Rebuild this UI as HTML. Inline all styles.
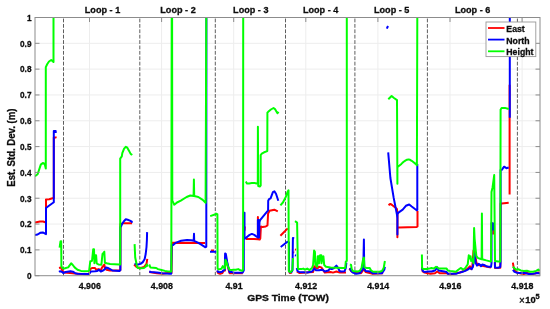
<!DOCTYPE html>
<html><head><meta charset="utf-8"><style>
html,body{margin:0;padding:0;background:#fff;}
svg{display:block;}
.g{stroke:#ededed;stroke-width:1;}
.d{stroke:#5e5e5e;stroke-width:1;stroke-dasharray:3.8 1.59;}
.ax{stroke:#8c8c8c;stroke-width:1;}
.t{font-family:"Liberation Sans",Arial,sans-serif;font-weight:bold;font-size:9px;fill:#0d0d0d;stroke:#0d0d0d;stroke-width:0.3px;}
.r,.b,.gr{fill:none;stroke-width:2;stroke-linejoin:round;stroke-linecap:butt;}
.r{stroke:#f00;} .b{stroke:#00f;} .gr{stroke:#0f0;}
</style></head><body>
<svg width="550" height="309" viewBox="0 0 550 309">
<rect width="550" height="309" fill="#fff"/><defs><clipPath id="cp"><rect x="35" y="17.5" width="505" height="258.2"/></clipPath></defs>
<line x1="89.5" y1="17.5" x2="89.5" y2="275.7" class="g"/>
<line x1="161.6" y1="17.5" x2="161.6" y2="275.7" class="g"/>
<line x1="233.7" y1="17.5" x2="233.7" y2="275.7" class="g"/>
<line x1="305.8" y1="17.5" x2="305.8" y2="275.7" class="g"/>
<line x1="377.9" y1="17.5" x2="377.9" y2="275.7" class="g"/>
<line x1="450.0" y1="17.5" x2="450.0" y2="275.7" class="g"/>
<line x1="522.1" y1="17.5" x2="522.1" y2="275.7" class="g"/>
<line x1="35.0" y1="249.88" x2="540.0" y2="249.88" class="g"/>
<line x1="35.0" y1="224.06" x2="540.0" y2="224.06" class="g"/>
<line x1="35.0" y1="198.24" x2="540.0" y2="198.24" class="g"/>
<line x1="35.0" y1="172.42" x2="540.0" y2="172.42" class="g"/>
<line x1="35.0" y1="146.6" x2="540.0" y2="146.6" class="g"/>
<line x1="35.0" y1="120.78" x2="540.0" y2="120.78" class="g"/>
<line x1="35.0" y1="94.96" x2="540.0" y2="94.96" class="g"/>
<line x1="35.0" y1="69.14" x2="540.0" y2="69.14" class="g"/>
<line x1="35.0" y1="43.32" x2="540.0" y2="43.32" class="g"/>
<line x1="63.5" y1="275.7" x2="63.5" y2="17.5" class="d"/>
<line x1="139.8" y1="275.7" x2="139.8" y2="17.5" class="d"/>
<line x1="215.3" y1="275.7" x2="215.3" y2="17.5" class="d"/>
<line x1="285.5" y1="275.7" x2="285.5" y2="17.5" class="d"/>
<line x1="354.9" y1="275.7" x2="354.9" y2="17.5" class="d"/>
<line x1="427.4" y1="275.7" x2="427.4" y2="17.5" class="d"/>
<line x1="517.4" y1="275.7" x2="517.4" y2="17.5" class="d"/>
<g clip-path="url(#cp)">
<polyline class="r" points="35,222.5 40,221.5 43,221.5 46,222.5 46,199.6 49.2,199.3 52.5,198.3 53.8,198 53.8,137.5 55.7,137.5 55.7,136.5"/>
<polyline class="r" points="59,268 61,267.5 62.2,270.4 64,272.5 70,273 75,273.5 89,274.5 90.3,269.1 92,268 95,268 96.1,269.7 98.5,269.1 100.8,270 102.5,266.8 104.3,264.5 104.9,268 106.6,269.7 110.1,270.5 119.4,270.5 120.3,270.3 120.5,223.9 121.3,223.9 123.2,223.3 132.1,223.3"/>
<polyline class="r" points="134.1,264.6 136.6,267 139.9,268.2 144,267 146.5,263.8 147.3,258.8"/>
<polyline class="r" points="149.2,272 156.8,273.2 162.6,273.8 170.8,272.6 171.5,273 172,242.8 205.1,243"/>
<polyline class="r" points="211,250.4 214,250.4"/>
<polyline class="r" points="217.2,271 218,273 220.1,273.8 222.4,273 223.6,270.8 225,270.5 225.3,258.5 226.1,259 227.5,265 228.7,270 229.6,273.3 234,273.2 242.8,273.2"/>
<polyline class="r" points="244.5,230.7 244.8,226.5"/>
<polyline class="r" points="246,239 254.3,239 257.9,239.3 257.9,217 258,239.3 259.7,239.6 260.3,238.5 260.9,226.5 262.7,227.1 265.7,226.5 267.5,225.3 268.1,213.4 269.6,210.8 274.3,209.7 277.8,211.4"/>
<polyline class="r" points="280.4,235.7 287.7,228.4"/>
<polyline class="r" points="289,272 290,273 292,272.5"/>
<polyline class="r" points="293.2,252.2 294.2,252.6"/>
<polyline class="r" points="295,249.4 296,249.8"/>
<polyline class="r" points="296.8,271.5 299.2,272.9 313.1,272 314.3,266.2 316,268 317.8,268 319,266.8 321.3,267.4 322.5,269.1 324.8,272.6 330.6,272 333,272.6 336.4,271.5 339.9,272.6 344.6,272.6 346,272.6"/>
<polyline class="r" points="349.3,268.6 351.7,271.5 361,273.2 363.9,269.1 365.6,272 372.6,273.8 383.1,273.2"/>
<polyline class="r" points="388.5,205.2 390.4,203.9 392.3,205.2 394.9,207.1 396.9,209 397.5,212.9 397.4,237.3 397.4,227.6 398.9,227.6 416.8,226.9 417.5,226.5 417.5,211"/>
<polyline class="r" points="421.9,266.8 422.7,271.5 424.5,272.6 430.3,273.8 435,273.2 437.3,271.5 439.6,273.2 446.6,273.2 450.1,274.4 456,273.2 460,272.5 465,270.5 467.7,268.6 470,266.2 471.2,269.1 472.3,267.4 473.5,250.5 474.1,250.5 474.6,251.7 476.4,262.7 478.1,265 491,267.4"/>
<polyline class="r" points="493.3,230 493.3,234.5"/>
<polyline class="r" points="495,262 495,268 500.3,267.7 500.6,203.6 501.8,203.6 508.7,202.8"/>
<polyline class="r" points="509.6,194.5 509.6,84.8"/>
<polyline class="r" points="512.9,262.6 513.5,266.7 515,270.9 517.1,272.4 520.7,273.5 523.8,274 526.9,273 531.1,274 535.2,273.5 538.3,272.4 539.3,273"/>
<polyline class="b" points="35,235 37.6,234.5 40.2,232.8 42.8,232.4 46,234.1 46,208 48.6,206 53.8,202.2 53.8,131 55.7,131 55.7,133"/>
<polyline class="b" points="59,271.9 60,271.2 62.3,272 63,273 65.8,272 70.5,271.2 72.8,271.7 75.2,273.2 77.5,273.8 89.1,274 90.9,271.5 95,271.2 97.3,270.9 99,269.7 100.8,271.5 103.1,270.5 104.9,269.1 106,267.4 107.8,268 110.1,269.1 112.4,270.5 119.4,270.9 120.4,270 120.4,227 121,226.6 122.1,223.9 123.9,221.3 125.8,219.3 127.7,219.8 129.9,220.6 131.8,221.7 132,222.8"/>
<polyline class="b" points="134.6,263.3 136.4,264.5 138.1,264.5 140.5,263.9 142.8,262.1 144.6,259.2 145.7,254 146.5,247 146.9,240 147.1,232.1"/>
<polyline class="b" points="149.2,271.5 151,272 156.8,272.4 162.6,273.2 169.6,273.8 171.2,273.8 171.7,245.1 173.1,245.1 176.1,242.6 181.1,240.8 187,239.9 191.2,240.3 193.7,240.8 194,233.8 194.2,240.9 197.9,242.6 201.3,244.7 205.1,247.2 206.3,246.8 206.4,17.4"/>
<polyline class="b" points="210,251.8 216.3,251.8"/>
<polyline class="b" points="217.3,270.3 217.8,271.7 219.7,272.2 222.1,271.7 223.6,270.3 224.8,269.7 225.1,253.4 225.8,253.8 227.2,262 228.7,268.8 229.6,272.2 230.9,271.7 233.3,272.7 239.1,272.7 242.8,272.4 243.8,270.3 243.8,212.8 244.5,212.8 244.5,238.5 245.4,238.5 247.2,236.7 249.6,234.9 251.9,233.9 254.3,234.9 256.7,236.7 257.9,237.5 257.9,219.9 258.7,219.9 259.1,237.5 259.5,222 260.3,219.9 268.1,210.4 268.2,200.7 269,199.2 270.6,198.4 272.9,192.2 274.4,191.4 276,193.7 278.3,200.7"/>
<polyline class="b" points="280.7,247 287.4,241.8 289,242.5 289,270.3 289.7,272.2 291.6,272 292.5,270.3 292.9,238 294.2,238.2"/>
<polyline class="b" points="294.9,255.2 296,255.6"/>
<polyline class="b" points="296.8,268 297.4,270.9 299.2,272 307.3,272.4 312,271.5 314.3,268.6 316,270.3 319,270.3 322.5,269.7 324.8,271.5 328.3,270.5 330,268.6 331.8,269.1 334.1,268 336.4,265.6 338.2,268 339.4,270.9 341.1,271.5 344.6,271.2 345.8,268 346.4,262.7"/>
<polyline class="b" points="349.9,268 351.1,270.9 352.8,272.6 356.3,273.8 359.8,273.2 362.1,270.3 363.3,266.8 363.9,239.6 364.2,268.6 365.6,270.9 370.3,271.5 372.6,273.2 382,273.2 384.3,269.7 384.9,266.8"/>
<polyline class="b" points="386.8,28.6 388,26"/>
<polyline class="b" points="388.2,152.3 390.4,178 393.6,197.4 396.9,214.2 397.4,218 397.4,234.4 397.4,214 398.8,212.3 402.7,209.7 405.9,205.8 409.2,204.5 411.7,206.5 415,209 416.9,210.3 417.3,210 417.3,164"/>
<polyline class="b" points="421.9,267.4 422.7,270.9 424.5,272 428,271.5 431.5,271.5 435,270.5 437.3,267.4 438.5,270.5 444.3,271.5 446.6,272 447.8,273.8 451.3,273.8 456,273.8 459.5,272.6 461.8,272 465.3,270.9 467.7,269.7 470,268 471.7,269.1 472.9,266.8 473.5,263.3 474.1,253.8 474.6,254 475.8,263.3 477,265.6 478.7,263.9 480.5,265 481.1,266.2 482.2,264.5 484,265 486.3,266.2 488.6,266.8 491,266.8 491.5,263.3 491.5,223 493.3,223.5 493.3,230.5"/>
<polyline class="b" points="494.8,262.1 495,267.4 498,267.7 500.3,267 500.6,262.1 500.6,170 501.8,169.8 504.1,166.7 506.4,168.2 508.7,167.5"/>
<polyline class="b" points="509.8,117.8 509.8,17.4"/>
<polyline class="b" points="512.9,269.8 514.5,271.9 517.1,272.7 520.7,273 524.8,273 529,274 533.1,273.8 537.3,273 539.9,273.5"/>
<polyline class="gr" points="35,176.2 37.6,174.3 40.8,164.6 42.8,163 44.7,164 45.8,168.5 45.8,67.2 47.3,64 49,61.5 51.2,60 53.5,62 53.5,17.4"/>
<polyline class="gr" points="59.6,247.7 60.5,241.5 61.2,241.2 61.4,266.2 62.3,268 64.1,268.6 65.8,268 68.2,267.4 71.1,263.3 72.8,265 74.6,267.4 77.5,269.7 81,270.9 84.5,271.2 89.1,270.9 90.3,261.2 92,261 93.2,249.3 94,249.3 94.4,263.3 95,255.2 96.1,255.2 96.7,263.3 98.5,264.5 101.4,264.7 102.5,254 103.7,252.8 104.3,251.7 104.9,262.7 106.6,263.3 110.1,263.9 119.4,264.5 120.2,264.5 120.2,158.6 121.8,156.4 122.3,153.2 124.1,148.6 125.9,146.8 127.3,147.7 129.1,150.9 130.5,153.6 131.4,154.5 132,153.6"/>
<polyline class="gr" points="134.6,244.1 135.2,257.5 136.4,263.3 137,266.8 138.1,268 140.5,268.3 144,268 145.7,266.8 146.9,264.5 147.5,266.8"/>
<polyline class="gr" points="149.2,264.5 150.4,267.4 153.3,267.7 156.2,268 158,269.1 161.5,270 165,270.9 167.3,271.2 170.2,271.5 171.3,271.5 171.7,17.4"/>
<polyline class="gr" points="172.1,17.4 172.3,200.6 174.3,204.7 177,202.5 180.8,200.6 186.6,197 190.3,195.5 193.6,195.9 193.9,179.5 194.2,196 198.3,197 202.7,199.9 205.6,202.8 206.3,17.4"/>
<polyline class="gr" points="210.2,216.1 215.5,214.3 216.6,213.7 217.4,214.3 217.6,268.8 218.3,269.3 219.6,269.3 221.4,268.8 222.8,266.1 223.7,267.5 224.9,268.4 225.4,259.8 226.2,261 227.8,266.1 229.6,269.7 231.4,270 233.5,269.7 235.8,269.7 238.2,269.1 240.5,270.3 242.2,270.9 243.1,269.7 243.2,17.4"/>
<polyline class="gr" points="245.9,181.5 246.8,183.4 249.1,183.4 251.8,183.1 254.5,182.9 256.8,183.4 257.8,183 257.9,126.8 258.2,186 260,186.5 260.7,185.5 260.7,155 261.8,153.6 264.1,152.3 267.3,151.1 267.4,112.7 268.2,111.8 270.9,109.5 273.5,108 275,109.1 276.4,111.4 277.5,113.2 278.6,111.8"/>
<polyline class="gr" points="280.4,205.3 282.9,202.5 285.8,196.9 287.3,192.5 288.5,190.3 288.8,270.9 290.3,272.2 292.3,270.3 293,258"/>
<polyline class="gr" points="295,221.1 297.1,222.6 297.9,268.3 298.1,269 299.2,269.1 301.5,269.1 303.2,268.6 305,269.7 307.3,268.6 309.6,270.1 312,268 313.1,265 314.1,250.5 314.9,251.7 315.5,264.5 317.2,266.8 317.8,256.3 318.7,256.3 319,263.3 320.1,255.2 321.3,255.2 321.5,263.3 322.5,256.9 323.4,256.3 324.2,265 326,266.8 330.6,267.4 336.4,267.7 342.3,268 345.2,268 345.8,261.6 346.8,261 346.8,17.4"/>
<polyline class="gr" points="349.9,264.5 351.1,265 351.7,269.1 352.8,270.9 355.2,271.2 357.5,271.5 359.8,270.9 361.6,268 362.1,264.5 363.3,258.5 363.9,257.5 364.5,267.4 366.8,268 369.7,268 370.9,270.3 372.6,271.5 375,271.7 379.6,271.7 382,270.9 383.7,268 384.9,261"/>
<polyline class="gr" points="388.3,99.3 391.6,96 394,98 397,100.1 397.4,183.8 397.4,166.5 398.2,166.5 399.5,165.5 401.4,163.9 403.3,162 405.3,160.6 407,159.7 408.5,159.4 410,159.8 411.7,160.8 413.6,162.3 415.6,163.9 416.9,165.2 417.3,17.4"/>
<polyline class="gr" points="421.9,254.6 422.1,268 423.3,269.1 426.8,269.1 429.1,268.6 431.5,268 433.8,268.6 436.1,266.8 437.3,267.4 438.5,268.6 446.6,268.6 447.8,270.5 450.1,270.9 452.4,271.2 455.9,271.7 458.3,269.7 460.7,268 461.8,268.6 463,269.7 465.3,268 466.5,266.2 467.7,264.5 468.8,255.2 469.8,258.6 470.6,256.3 471.2,261 472.3,259.2 473.5,263.3 474.1,228 474.6,238.6 475.6,249.1 476.4,256.3 478.1,258.1 481.6,259.2 481.9,213.5 482.2,259.2 486.3,260.4 491,261.6 491.5,192 492.6,187.2 494.2,175.1 495,261 498,261.6 500.3,261.6 500.6,109.5 501.8,107.9 504.9,107.9 508.7,109"/>
<polyline class="gr" points="512.9,266.7 514.5,268.3 516.6,269.8 518.6,269.3 520.7,270.4 523.8,270.9 526.9,270.7 530,271.7 533.1,271.7 536.2,270.9 538.3,269.6 539.9,270.9"/>
</g>
<path d="M89.5 275.7v-4.5M89.5 17.5v4.5M161.6 275.7v-4.5M161.6 17.5v4.5M233.7 275.7v-4.5M233.7 17.5v4.5M305.8 275.7v-4.5M305.8 17.5v4.5M377.9 275.7v-4.5M377.9 17.5v4.5M450.0 275.7v-4.5M450.0 17.5v4.5M522.1 275.7v-4.5M522.1 17.5v4.5M35.0 275.7h4.5M540.0 275.7h-4.5M35.0 249.88h4.5M540.0 249.88h-4.5M35.0 224.06h4.5M540.0 224.06h-4.5M35.0 198.24h4.5M540.0 198.24h-4.5M35.0 172.42h4.5M540.0 172.42h-4.5M35.0 146.6h4.5M540.0 146.6h-4.5M35.0 120.78h4.5M540.0 120.78h-4.5M35.0 94.96h4.5M540.0 94.96h-4.5M35.0 69.14h4.5M540.0 69.14h-4.5M35.0 43.32h4.5M540.0 43.32h-4.5M35.0 17.5h4.5M540.0 17.5h-4.5" class="ax"/>
<rect x="35.0" y="17.5" width="505.0" height="258.2" class="ax" fill="none"/>
<rect x="486" y="22" width="49.8" height="34.6" fill="#fff" stroke="#999" stroke-width="0.9"/>
<line x1="488" y1="28" x2="504.5" y2="28" stroke="#f00" stroke-width="1.8"/>
<line x1="488" y1="39.6" x2="504.5" y2="39.6" stroke="#00f" stroke-width="1.8"/>
<line x1="488" y1="51.3" x2="504.5" y2="51.3" stroke="#0f0" stroke-width="1.8"/>
<text transform="translate(506.3 31.9) scale(0.95 1)" class="t" style="font-size:9.2px" text-anchor="start">East</text>
<text transform="translate(506.3 43.5) scale(0.95 1)" class="t" style="font-size:9.2px" text-anchor="start">North</text>
<text transform="translate(506.3 54.8) scale(0.95 1)" class="t" style="font-size:9.2px" text-anchor="start">Height</text>
<text transform="translate(89.8 288.5) scale(0.96 1)" class="t" style="font-size:9.2px" text-anchor="middle">4.906</text>
<text transform="translate(161.9 288.5) scale(0.96 1)" class="t" style="font-size:9.2px" text-anchor="middle">4.908</text>
<text transform="translate(234.0 288.5) scale(0.96 1)" class="t" style="font-size:9.2px" text-anchor="middle">4.91</text>
<text transform="translate(306.1 288.5) scale(0.96 1)" class="t" style="font-size:9.2px" text-anchor="middle">4.912</text>
<text transform="translate(378.2 288.5) scale(0.96 1)" class="t" style="font-size:9.2px" text-anchor="middle">4.914</text>
<text transform="translate(450.3 288.5) scale(0.96 1)" class="t" style="font-size:9.2px" text-anchor="middle">4.916</text>
<text transform="translate(522.4 288.5) scale(0.96 1)" class="t" style="font-size:9.2px" text-anchor="middle">4.918</text>
<text transform="translate(31.5 279.0) scale(0.86 1)" class="t" style="font-size:9.6px" text-anchor="end">0</text>
<text transform="translate(31.5 253.18) scale(0.86 1)" class="t" style="font-size:9.6px" text-anchor="end">0.1</text>
<text transform="translate(31.5 227.36) scale(0.86 1)" class="t" style="font-size:9.6px" text-anchor="end">0.2</text>
<text transform="translate(31.5 201.54) scale(0.86 1)" class="t" style="font-size:9.6px" text-anchor="end">0.3</text>
<text transform="translate(31.5 175.72) scale(0.86 1)" class="t" style="font-size:9.6px" text-anchor="end">0.4</text>
<text transform="translate(31.5 149.9) scale(0.86 1)" class="t" style="font-size:9.6px" text-anchor="end">0.5</text>
<text transform="translate(31.5 124.08) scale(0.86 1)" class="t" style="font-size:9.6px" text-anchor="end">0.6</text>
<text transform="translate(31.5 98.26) scale(0.86 1)" class="t" style="font-size:9.6px" text-anchor="end">0.7</text>
<text transform="translate(31.5 72.44) scale(0.86 1)" class="t" style="font-size:9.6px" text-anchor="end">0.8</text>
<text transform="translate(31.5 46.62) scale(0.86 1)" class="t" style="font-size:9.6px" text-anchor="end">0.9</text>
<text transform="translate(31.5 20.8) scale(0.86 1)" class="t" style="font-size:9.6px" text-anchor="end">1</text>
<text transform="translate(84.8 12.8) scale(0.93 1)" class="t" style="font-size:9.8px" text-anchor="start">Loop - 1</text>
<text transform="translate(160.3 12.8) scale(0.93 1)" class="t" style="font-size:9.8px" text-anchor="start">Loop - 2</text>
<text transform="translate(233.1 12.8) scale(0.93 1)" class="t" style="font-size:9.8px" text-anchor="start">Loop - 3</text>
<text transform="translate(302.9 12.8) scale(0.93 1)" class="t" style="font-size:9.8px" text-anchor="start">Loop - 4</text>
<text transform="translate(374 12.8) scale(0.93 1)" class="t" style="font-size:9.8px" text-anchor="start">Loop - 5</text>
<text transform="translate(454.9 12.8) scale(0.93 1)" class="t" style="font-size:9.8px" text-anchor="start">Loop - 6</text>
<text transform="translate(288 300.9) scale(1.08 1)" class="t" style="font-size:9.5px" text-anchor="middle">GPS Time (TOW)</text>
<text transform="translate(14.8 147.6) rotate(-90) scale(0.96 1)" class="t" style="font-size:10px" text-anchor="middle">Est. Std. Dev. (m)</text>
<text x="518.9" y="304.4" class="t" style="font-weight:normal;font-size:10px">&#215;</text><text x="525.3" y="302.6" class="t" style="font-size:9.3px">10</text><text x="535.5" y="298.5" class="t" style="font-size:7.4px">5</text>
</svg>
</body></html>
